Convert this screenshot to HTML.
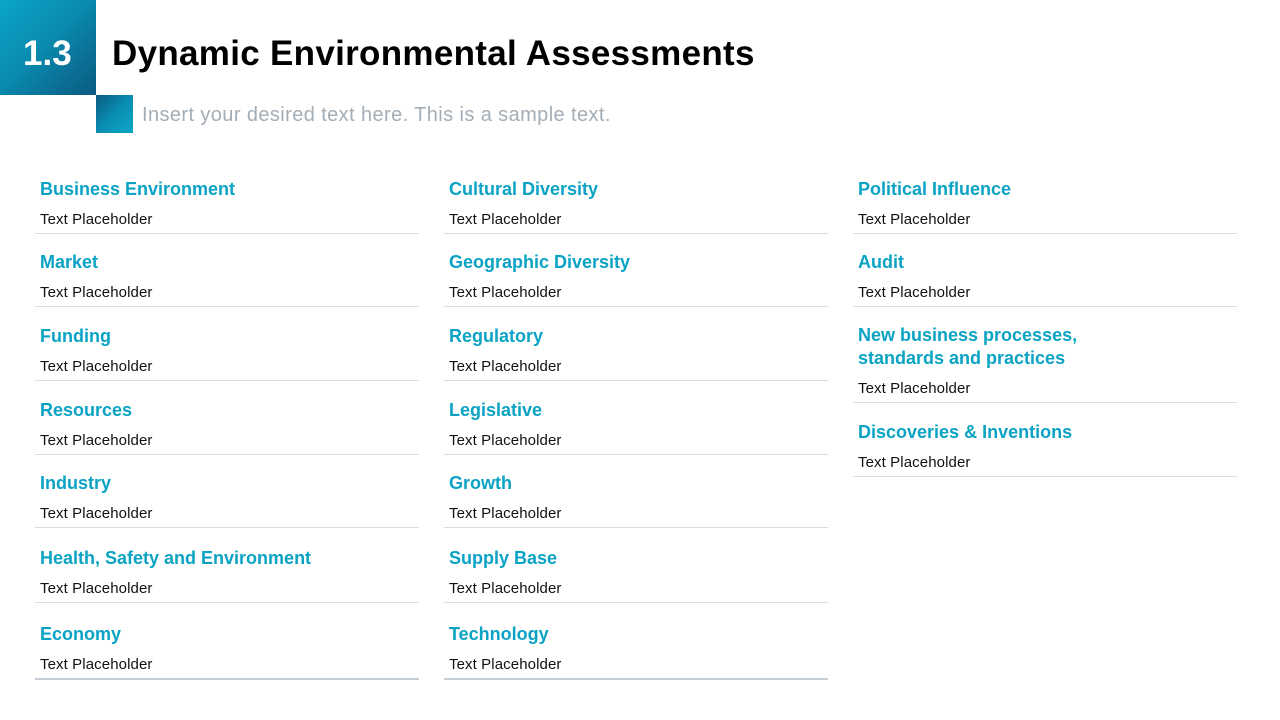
<!DOCTYPE html>
<html><head><meta charset="utf-8"><style>
body{margin:0;width:1280px;height:720px;background:#fff;position:relative;overflow:hidden;font-family:"Liberation Sans",sans-serif}
.a{position:absolute;white-space:nowrap}
.big{left:0;top:0;width:96px;height:95px;background:linear-gradient(135deg,#0aa6c8 0%,#0a8bb0 45%,#0b5a80 100%)}
.sm{left:96px;top:95px;width:37px;height:38px;background:linear-gradient(135deg,#0b5a80 0%,#0a8db2 50%,#0aa6c8 100%)}
.h{font-weight:bold;color:#0aa3c4;font-size:18px;line-height:23px}
.t{color:#111;font-size:15px;letter-spacing:0.1px}
.l{position:absolute;height:1px;background:#d8dde2;width:384px}
</style></head><body>
<div class="a big"></div><div class="a sm"></div>
<div class="a" style="left:23px;top:34px;color:#fff;font-size:35px;font-weight:bold">1.3</div>
<div class="a" style="left:112px;top:34px;color:#000;font-size:35px;font-weight:bold;letter-spacing:0.3px">Dynamic Environmental Assessments</div>
<div class="a" style="left:142px;top:104px;color:#a3adb6;font-size:20px;letter-spacing:0.4px">Insert your desired text here. This is a sample text.</div>
<div id="c"></div>
<script>
const cols=[[40,35,["Business Environment","Market","Funding","Resources","Industry","Health, Safety and Environment","Economy"],[233,306,380,454,527,602,678]],
[449,444,["Cultural Diversity","Geographic Diversity","Regulatory","Legislative","Growth","Supply Base","Technology"],[233,306,380,454,527,602,678]],
[858,853,["Political Influence","Audit","New business processes,<br>standards and practices","Discoveries &amp; Inventions"],[233,306,402,476]]];
let h="";
for(const [x,lx,ts,ys] of cols){ts.forEach((t,i)=>{const y=ys[i];const two=t.includes("<br>");
h+=`<div class="a h" style="left:${x}px;top:${y-55-(two?23:0)}px">${t}</div>`;
h+=`<div class="a t" style="left:${x}px;top:${y-22}px">Text Placeholder</div>`;
h+=`<div class="l" style="left:${lx}px;top:${y}px;${i==6?'background:#c5ced6;height:2px':''}"></div>`;});}
document.getElementById("c").innerHTML=h;
</script>
</body></html>
